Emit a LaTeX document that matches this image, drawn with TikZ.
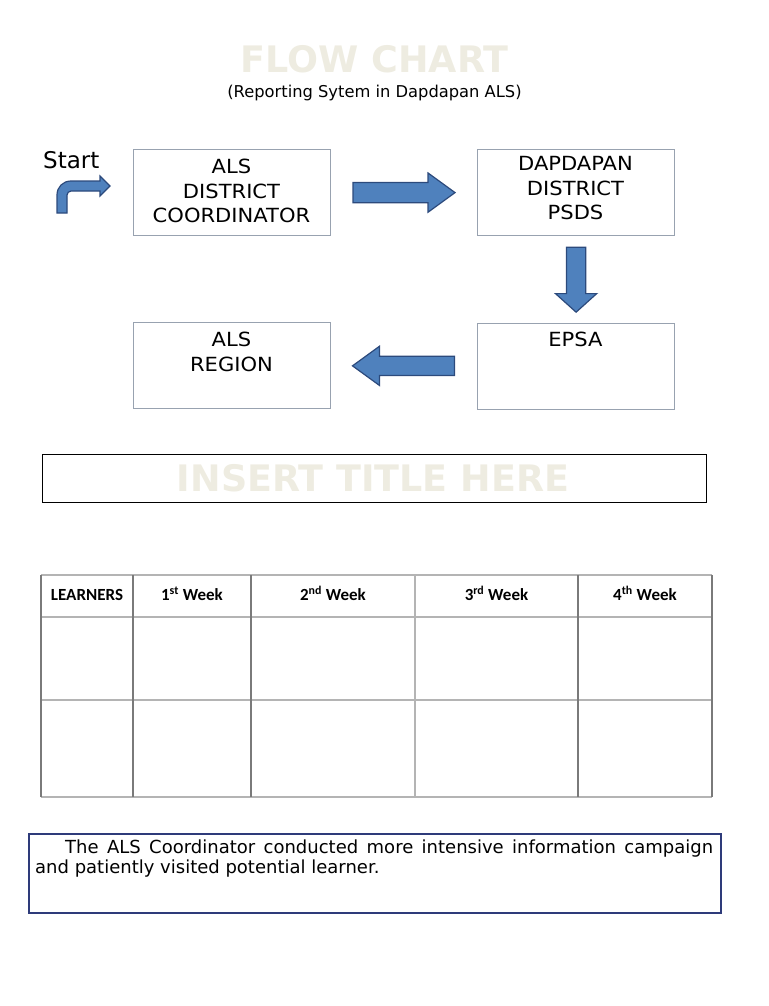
\documentclass[tikz,border=0pt]{standalone}
\usepackage{fontspec}
\setmainfont{DejaVu Sans}
\newfontfamily\boxfont[FakeStretch=1.08]{DejaVu Sans}
\newfontfamily\tabfont{Carlito}
\usetikzlibrary{calc,shapes.arrows}
\definecolor{arrowfill}{HTML}{4F81BD}
\definecolor{arrowline}{HTML}{2C4A7C}
\definecolor{boxline}{HTML}{98A2B0}
\definecolor{ghost}{HTML}{EEECE1}
\definecolor{noteline}{HTML}{2E3B7A}
\definecolor{gridh}{HTML}{B4B4B4}
\definecolor{gridv}{HTML}{7A7A7A}
\begin{document}
\begin{tikzpicture}[x=1pt,y=-1pt,
  flowbox/.style={draw=boxline, line width=1.2pt, minimum width=197pt, minimum height=86pt, anchor=north west, inner sep=0pt},
  boxtext/.style={font=\boxfont\fontsize{19.5}{24.5}\selectfont, align=center, inner sep=0pt, anchor=north},
  blockarrow/.style={single arrow, fill=arrowfill, draw=arrowline, line width=1.2pt, text width=0pt, text height=0pt, text depth=0pt},
  hdr/.style={font=\tabfont\bfseries\fontsize{17}{19}\selectfont, anchor=base, inner sep=0pt},
  hline/.style={draw=gridh, line width=1.2pt},
  vline/.style={draw=gridv, line width=1.1pt}]
\useasboundingbox (0,0) rectangle (768,1006);

% titles
\node[font=\bfseries\fontsize{36.5}{40}\selectfont, text=ghost, anchor=base, inner sep=0pt] (title) at (374.5,73) {FLOW CHART};
\node[font=\fontsize{16.3}{19}\selectfont, anchor=base, inner sep=0pt] (subtitle) at (374.5,98) {(Reporting Sytem in Dapdapan ALS)};

% start
\node[font=\fontsize{23}{27}\selectfont, anchor=base west, inner sep=0pt] (start) at (43,168) {Start};
\draw[fill=arrowfill, draw=arrowline, line width=1.2pt, line join=miter]
  (57,213) -- (57,195) .. controls (57,187) and (63,181) .. (71,181) -- (100,181) -- (100,176) -- (110,186)
  -- (100,196) -- (100,191) -- (71,191) .. controls (69,191) and (67,193) .. (67,195) -- (67,213) -- cycle;

% boxes
\node[flowbox] (coord) at (133,149) {};
\node[flowbox] (psds) at (477,149) {};
\node[flowbox] (epsa) at (477,322.5) {};
\node[flowbox] (region) at (133,322) {};

\node[boxtext] (coordtxt) at (231.5,159) {ALS\\DISTRICT\\COORDINATOR};
\node[boxtext] (psdstxt) at (575.5,156.5) {DAPDAPAN\\DISTRICT\\PSDS};
\node[boxtext] (epsatxt) at (575.5,332) {EPSA};
\node[boxtext] (regiontxt) at (231.5,332) {ALS\\REGION};

% block arrows
\node[blockarrow, minimum height=102pt, inner xsep=0pt, inner ysep=9.5pt, single arrow head extend=9.5pt, single arrow tip angle=72, xshift=-7pt] (a1) at ($(coord.east)!0.5!(psds.west)$) {};
\node[blockarrow, minimum height=65pt, inner ysep=0pt, inner xsep=9pt, single arrow head extend=11pt, single arrow tip angle=96, shape border rotate=270, yshift=4pt] (a2) at ($(psds.south)!0.5!(epsa.north)$) {};
\node[blockarrow, minimum height=102pt, inner xsep=0pt, inner ysep=9pt, single arrow head extend=10pt, single arrow tip angle=72, shape border rotate=180, xshift=6pt] (a3) at ($(epsa.west)!0.5!(region.east)$) {};

% insert title
\node[draw=black, line width=1.3pt, minimum width=664pt, minimum height=48pt, anchor=north west, inner sep=0pt] (titlebox) at (42,454) {};
\node[font=\bfseries\fontsize{36.5}{40}\selectfont, text=ghost, anchor=base, inner sep=0pt] (inserttitle) at (373,491) {INSERT TITLE HERE};

% table
\foreach \yy in {575,617,700,797} { \draw[hline] (41,\yy) -- (712,\yy); }
\foreach \xx in {41,133,251,578,712} { \draw[vline] (\xx,575) -- (\xx,797); }
\draw[hline] (415,575) -- (415,797);
\node[hdr] (h0) at (87,600.5) {LEARNERS};
\node[hdr] (h1) at (192,600.5) {1\textsuperscript{st} Week};
\node[hdr] (h2) at (333,600.5) {2\textsuperscript{nd} Week};
\node[hdr] (h3) at (496.5,600.5) {3\textsuperscript{rd} Week};
\node[hdr] (h4) at (645,600.5) {4\textsuperscript{th} Week};

% note
\node[draw=noteline, line width=2.2pt, minimum width=692pt, minimum height=79pt, anchor=north west, inner sep=0pt] (notebox) at (27.5,832.5) {};
\node[anchor=north west, inner sep=0pt, text width=678pt, align=justify, font=\fontsize{18}{20.5}\selectfont] (note) at (35,839.5)
  {\hspace*{30pt}The ALS Coordinator conducted more intensive information campaign\linebreak and patiently visited potential learner.};
\end{tikzpicture}
\end{document}
